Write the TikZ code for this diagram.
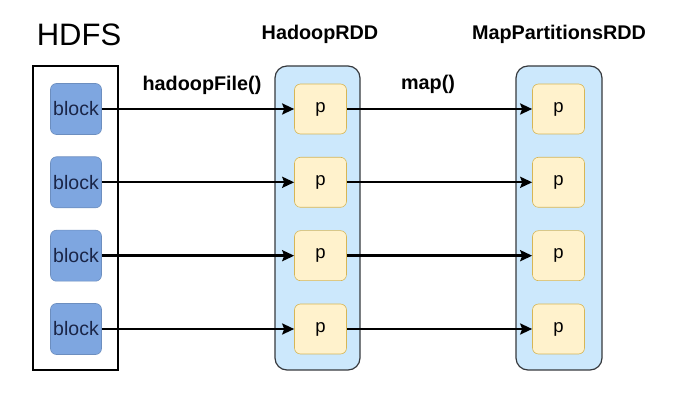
\documentclass[tikz,border=0pt]{standalone}
\usepackage{fontspec}
\setmainfont{Liberation Sans}
\usetikzlibrary{arrows.meta}
\definecolor{blockfill}{HTML}{7EA6E0}
\definecolor{blockdraw}{HTML}{6C8EBF}
\definecolor{blocktext}{HTML}{1A2547}
\definecolor{pfill}{HTML}{FFF2CC}
\definecolor{pdraw}{HTML}{D6B656}
\definecolor{rddfill}{HTML}{CCE8FC}
\definecolor{rdddraw}{HTML}{36393D}
\tikzset{
  blockbox/.style={draw=blockdraw, fill=blockfill, rounded corners=6pt, minimum width=51pt, minimum height=51pt, inner sep=0pt, line width=0.6pt, text=blocktext, font=\fontsize{19.5}{20}\selectfont},
  pbox/.style={draw=pdraw, fill=pfill, rounded corners=6pt, minimum width=52pt, minimum height=50pt, inner sep=0pt, line width=0.6pt, font=\fontsize{18.5}{20}\selectfont},
  rddbox/.style={draw=rdddraw, fill=rddfill, rounded corners=12pt, line width=1.2pt},
  title/.style={anchor=base, inner sep=0pt, font=\bfseries\fontsize{19.8}{22}\selectfont},
  conn/.style={line width=2.4pt, -{Stealth[length=12pt, width=11pt, inset=2pt]}},
}
\begin{document}
\begin{tikzpicture}[x=1pt, y=-1pt]
\useasboundingbox (0,0) rectangle (675,411);
% containers
\draw[line width=1.1pt, black] (33,66) rectangle (118,370);
\draw[rddbox] (275,66) rectangle (360,370);
\draw[rddbox] (516,66) rectangle (602,370);
% titles
\node[anchor=base, inner sep=0pt, font=\fontsize{31}{32}\selectfont] (hdfs) at (79,46) {HDFS};
\node[title] (hrdd) at (320,40) {HadoopRDD};
\node[title] (mrdd) at (559,40) {MapPartitionsRDD};
\node[title] (lhf) at (202,91) {hadoopFile()};
\node[title] (lmap) at (428,90) {map()};
% rows
\foreach \i/\y in {1/109, 2/182.3, 3/255.7, 4/329} {
  \node[blockbox] (b\i) at (76,\y) {block};
  \node[pbox] (p\i) at (320.5,\y) {p};
  \node[pbox] (q\i) at (558.5,\y) {p};
}
\foreach \i in {1,2,3,4} {
  \draw[conn] (b\i.east) -- (p\i.west);
  \draw[conn] (p\i.east) -- (q\i.west);
}
\end{tikzpicture}
\end{document}
